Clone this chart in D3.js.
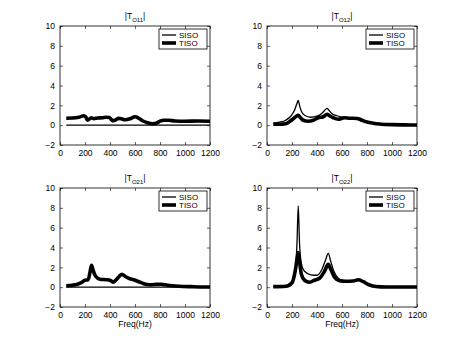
<!DOCTYPE html>
<html><head><meta charset="utf-8">
<script src="https://cdn.jsdelivr.net/npm/d3@7"></script>
<style>body{margin:0;background:#fff}svg{display:block}text{font-family:"Liberation Sans",Arial,sans-serif}</style>
</head><body>
<svg id="c" width="474" height="345"></svg>
<script>
const xTicks=[0,200,400,600,800,1000,1200];
const yTicks=[-2,0,2,4,6,8,10];
const titles=[["O","11"],["O","12"],["O","21"],["O","22"]];
const seriesNames=["SISO","TISO"];
// [freq, value]
const p11Siso=[[50,0],[1200,0]];
const p11Tiso=[[50,0.7],[100,0.72],[150,0.8],[190,0.95],[205,0.85],[220,0.5],[250,0.75],[270,0.65],[300,0.72],[340,0.75],[370,0.8],[395,0.78],[420,0.45],[440,0.5],[470,0.68],[490,0.65],[520,0.55],[560,0.65],[600,0.85],[630,0.7],[660,0.45],[700,0.25],[740,0.15],[770,0.2],[800,0.4],[830,0.5],[870,0.5],[920,0.42],[1000,0.4],[1100,0.42],[1200,0.4]];
const p12Siso=[[50,0.2],[100,0.3],[150,0.5],[190,0.9],[220,1.5],[240,2.2],[250,2.5],[260,2.0],[275,1.4],[300,1.0],[350,0.8],[400,0.9],[440,1.2],[470,1.6],[480,1.7],[495,1.5],[520,1.15],[560,0.95],[600,0.8],[650,0.7],[700,0.68],[740,0.5],[790,0.3],[850,0.18],[900,0.1],[1000,0.05],[1100,0.02],[1200,0.02]];
const p12Tiso=[[50,0.1],[100,0.1],[150,0.15],[190,0.45],[230,0.85],[250,1.0],[265,0.8],[290,0.5],[330,0.4],[370,0.5],[410,0.75],[450,0.85],[480,1.1],[500,0.95],[530,0.75],[570,0.6],[620,0.75],[660,0.7],[720,0.68],[760,0.5],[800,0.32],[850,0.2],[900,0.12],[1000,0.05],[1100,0.03],[1200,0.02]];
const p21Siso=[[50,0],[1200,0]];
const p21Tiso=[[50,0.15],[100,0.2],[140,0.3],[170,0.45],[200,0.7],[225,0.75],[240,1.5],[252,2.2],[265,1.7],[285,1.1],[320,0.8],[370,0.75],[400,0.7],[425,0.5],[450,0.75],[475,1.1],[495,1.3],[520,1.1],[550,0.9],[590,0.75],[630,0.55],[670,0.35],[720,0.25],[770,0.28],[810,0.3],[860,0.2],[950,0.1],[1050,0.05],[1150,0.02],[1200,0.02]];
const p22Siso=[[50,0.05],[150,0.1],[200,0.4],[225,1.5],[240,4.5],[250,8.2],[260,4.5],[275,2.4],[300,1.6],[350,1.25],[400,1.2],[440,1.8],[470,2.8],[490,3.4],[510,2.6],[535,1.6],[570,0.9],[610,0.65],[660,0.6],[700,0.7],[730,0.75],[770,0.55],[820,0.25],[870,0.08],[950,0.02],[1200,0.02]];
const p22Tiso=[[50,0.05],[150,0.1],[200,0.45],[225,1.6],[240,2.8],[250,3.5],[260,2.6],[275,1.3],[300,0.7],[340,0.5],[380,0.7],[420,0.9],[460,1.6],[490,2.3],[510,1.8],[540,1.0],[580,0.65],[630,0.6],[690,0.62],[730,0.75],[770,0.55],[820,0.22],[870,0.07],[950,0.02],[1200,0.02]];
const panels=[
 {x:60,y:26,data:[p11Siso,p11Tiso],title:titles[0],xlab:false},
 {x:267,y:26,data:[p12Siso,p12Tiso],title:titles[1],xlab:false},
 {x:60,y:188,data:[p21Siso,p21Tiso],title:titles[2],xlab:true},
 {x:267,y:188,data:[p22Siso,p22Tiso],title:titles[3],xlab:true}
];
const W=150,H=119;
const svg=d3.select("#c");
const widths=[1.3,3.6];
panels.forEach(p=>{
  const g=svg.append("g").attr("transform",`translate(${p.x},${p.y})`);
  const x=d3.scaleLinear().domain([0,1200]).range([0,W]);
  const y=d3.scaleLinear().domain([-2,10]).range([H,0]);
  const clip="clip"+p.x+"_"+p.y;
  g.append("clipPath").attr("id",clip).append("rect").attr("width",W).attr("height",H);
  const line=d3.line().x(d=>x(d[0])).y(d=>y(d[1])).curve(d3.curveMonotoneX);
  [1,0].forEach(i=>{
    g.append("path").attr("clip-path",`url(#${clip})`).attr("d",line(p.data[i])).attr("fill","none")
     .attr("stroke","#000").attr("stroke-width",widths[i]).attr("stroke-linejoin","round");
  });
  const fmt=d3.format("d");
  const ax=g.append("g").attr("transform",`translate(0,${H})`).call(d3.axisBottom(x).tickValues(xTicks).tickSize(-3).tickPadding(5).tickFormat(fmt));
  const ax2=g.append("g").call(d3.axisTop(x).tickValues(xTicks).tickSize(-3).tickFormat(""));
  const ay=g.append("g").call(d3.axisLeft(y).tickValues(yTicks).tickSize(-3).tickPadding(5).tickFormat(fmt));
  const ay2=g.append("g").attr("transform",`translate(${W},0)`).call(d3.axisRight(y).tickValues(yTicks).tickSize(-3).tickFormat(""));
  [ax,ax2,ay,ay2].forEach(a=>{a.select(".domain").remove();a.selectAll("line").attr("stroke","#000").attr("stroke-width",0.6);
    a.selectAll("text").attr("font-size",8.5).attr("fill","#000");});
  g.append("rect").attr("width",W).attr("height",H).attr("fill","none").attr("stroke","#000").attr("stroke-width",0.8);
  const t=g.append("text").attr("x",W/2).attr("y",-7).attr("text-anchor","middle").attr("font-size",8.5).attr("fill","#000");
  t.append("tspan").text("|T");
  t.append("tspan").attr("font-size",6).attr("dy",2.5).text(p.title[0]+p.title[1]);
  t.append("tspan").attr("dy",-2.5).text("|");
  if(p.xlab) g.append("text").attr("x",W/2).attr("y",H+20).attr("text-anchor","middle").attr("font-size",8.5).text("Freq(Hz)");
  const lg=g.append("g").attr("transform",`translate(${W-51},3)`);
  lg.append("rect").attr("width",48).attr("height",20).attr("fill","#fff").attr("stroke","#000").attr("stroke-width",0.8);
  seriesNames.forEach((n,i)=>{
    const yy=6+i*8;
    lg.append("line").attr("x1",3).attr("x2",17).attr("y1",yy).attr("y2",yy).attr("stroke","#000").attr("stroke-width",widths[i]);
    lg.append("text").attr("x",20).attr("y",yy+3).attr("font-size",8).text(n);
  });
});
</script>
</body></html>
